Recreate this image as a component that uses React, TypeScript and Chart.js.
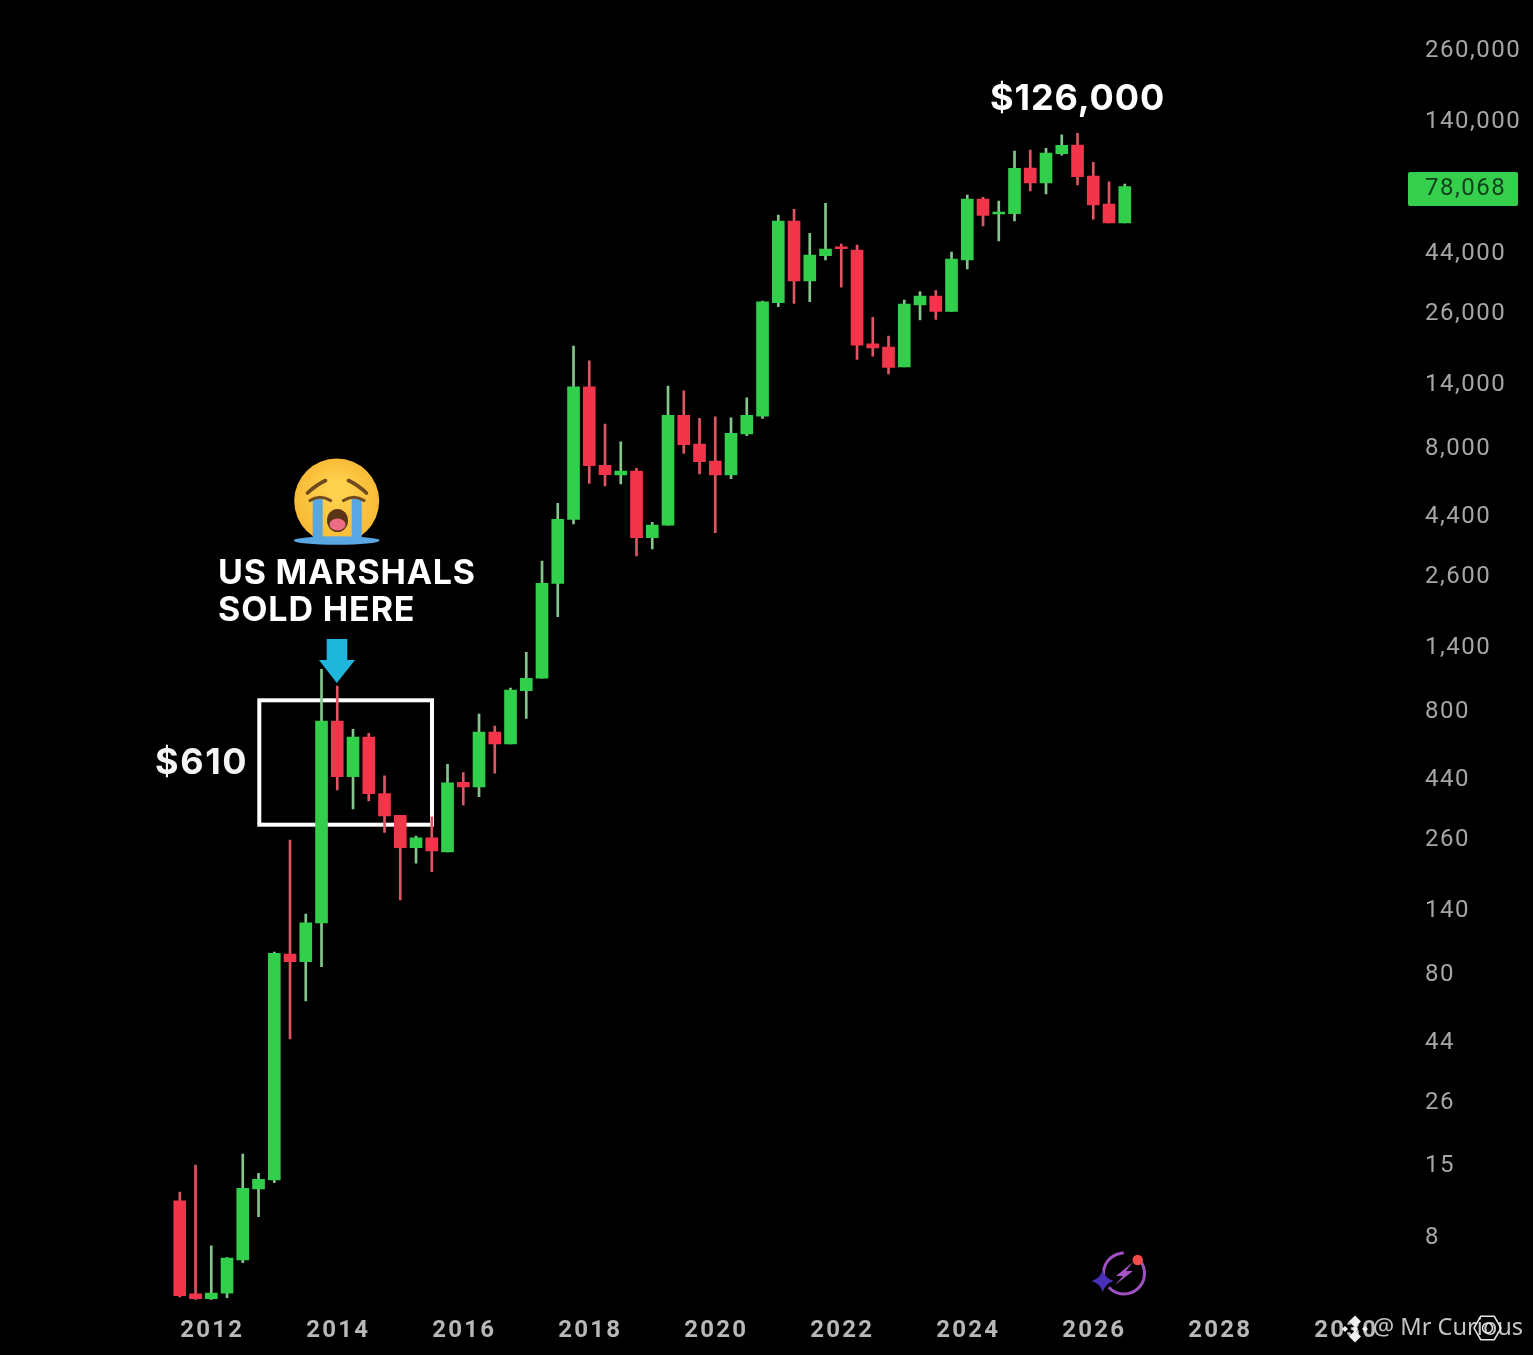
import React, { useEffect, useRef } from "react";
import { Chart, registerables } from "chart.js";

Chart.register(...registerables);

// Quarterly candles, Q3 2011 to Q3 2026 (prices in USD)
const opens = [10.9, 4.83, 4.63, 4.85, 6.49, 12.1, 13.07, 94.5, 88.3, 124, 726, 446, 631, 385, 318, 239.5, 261, 231, 424, 408, 659, 594, 946, 1055, 2422, 4240, 13530, 6803, 6250, 6471, 3610, 4027, 10536, 8196, 7065, 6250, 8949, 10470, 28230, 57700, 34140, 42590, 46080, 44770, 19720, 19160, 16080, 27670, 29940, 26180, 41020, 69960, 61360, 61520, 91770, 80490, 104000, 112200, 85570, 66950, 56700];
const highs = [11.76, 14.9, 7.34, 6.63, 16.4, 13.85, 96.1, 256, 134, 1141, 986, 675, 652, 449, 318, 265, 314, 497, 462, 772, 695, 969, 1324, 2944, 4879, 19330, 16990, 9766, 8363, 6627, 4131, 13620, 13070, 10260, 10410, 10318, 12290, 28660, 60800, 63930, 51820, 67380, 47190, 46770, 24850, 21090, 28910, 31090, 31360, 43990, 72440, 71010, 68740, 106500, 107400, 109000, 122800, 124300, 96450, 81400, 79780];
const lows = [4.7, 4.6, 4.6, 4.67, 6.34, 9.48, 12.76, 44.9, 62.6, 84.5, 397, 336, 361, 274, 151.6, 209, 194, 231, 348, 374, 460, 594, 743, 1055, 1808, 4070, 5810, 5675, 5775, 3076, 3270, 4027, 7556, 6303, 3771, 6049, 8815, 10260, 27260, 28080, 28480, 41020, 32310, 17200, 17700, 15130, 16080, 24260, 24410, 26180, 37910, 55240, 48440, 57700, 75060, 73090, 102800, 79100, 58590, 56700, 56700];
const closes = [4.75, 4.63, 4.86, 6.6, 12.15, 13.15, 95, 88.3, 124.2, 726, 446, 631, 384, 316, 239.5, 261, 233, 423, 408, 659, 594, 952, 1055, 2422, 4240, 13530, 6780, 6266, 6471, 3610, 4036, 10536, 8147, 7020, 6250, 9003, 10536, 28480, 57700, 34140, 42850, 45170, 45290, 19490, 18990, 16040, 27910, 29940, 26180, 41380, 69960, 60670, 62440, 91530, 80490, 104600, 111900, 85040, 66370, 56700, 78068];

const firstYear = 2011;
const firstQuarter = 3;
const categoryCount = 78;
const quarterLabels = Array.from({ length: categoryCount }, (_, i) => {
  const q = firstQuarter - 1 + i;
  return `${firstYear + Math.floor(q / 4)} Q${(q % 4) + 1}`;
});

const priceTicks = [260000, 140000, 44000, 26000, 14000, 8000, 4400, 2600, 1400, 800, 440, 260, 140, 80, 44, 26, 15, 8];
const lastPrice = 78068;

const GREEN = "#32cf4d";
const RED = "#f2354a";
const GREEN_WICK = "#86c58c";
const RED_WICK = "#dc5664";

const rr = (ctx: CanvasRenderingContext2D, text: string, x: number, y: number, font: string, color: string, spacing = 0) => {
  ctx.font = font;
  ctx.fillStyle = color;
  ctx.textAlign = "left";
  ctx.textBaseline = "middle";
  (ctx as any).letterSpacing = `${spacing}px`;
  ctx.fillText(text, x, y);
  (ctx as any).letterSpacing = "0px";
};

const Y_LABEL_SHIFT = 2;
const X_LABEL_SHIFT = 1;

const backgroundAndBox = {
  id: "backgroundAndBox",
  beforeDraw(chart: any) {
    const { ctx, width, height } = chart;
    ctx.save();
    ctx.fillStyle = "#000";
    ctx.fillRect(0, 0, width, height);
    ctx.restore();
    // y tick labels (z = 0) are drawn straight after this hook
    (ctx as any).letterSpacing = "1.5px";
    ctx.translate(0, Y_LABEL_SHIFT);
  },
  beforeDatasetsDraw(chart: any) {
    const { ctx } = chart;
    ctx.translate(0, -Y_LABEL_SHIFT);
    (ctx as any).letterSpacing = "0px";
    ctx.save();
    ctx.strokeStyle = "#fff";
    ctx.lineWidth = 4;
    ctx.strokeRect(259.3, 700.3, 172.7, 124.4);
    ctx.restore();
  },
  afterDatasetsDraw(chart: any) {
    // x tick labels have z = 1, they are drawn straight after this hook
    (chart.ctx as any).letterSpacing = "2.2px";
    chart.ctx.translate(X_LABEL_SHIFT, 0);
  },
};

function drawEmoji(ctx: CanvasRenderingContext2D) {
  const cx = 336.7;
  const cy = 501;
  ctx.save();
  const g = ctx.createRadialGradient(cx, cy - 12, 8, cx, cy, 44);
  g.addColorStop(0, "#ffd24f");
  g.addColorStop(1, "#f8b935");
  ctx.fillStyle = g;
  ctx.beginPath();
  ctx.arc(cx, cy, 42.5, 0, Math.PI * 2);
  ctx.fill();
  ctx.fillStyle = "#58a6e2";
  ctx.beginPath();
  ctx.ellipse(cx, 540.5, 43, 4.3, 0, 0, Math.PI * 2);
  ctx.fill();
  ctx.fillRect(312.7, 499, 10, 38);
  ctx.fillRect(351.7, 499, 10, 38);
  ctx.strokeStyle = "#6f4a1e";
  ctx.lineWidth = 3.6;
  ctx.lineCap = "round";
  ctx.beginPath();
  ctx.moveTo(307.5, 493);
  ctx.quadraticCurveTo(316, 485, 325.5, 480.5);
  ctx.moveTo(348.5, 480.5);
  ctx.quadraticCurveTo(358, 485, 366.5, 493);
  ctx.stroke();
  ctx.lineWidth = 3.2;
  ctx.beginPath();
  ctx.moveTo(310, 500.5);
  ctx.quadraticCurveTo(320, 494, 330.5, 500.5);
  ctx.moveTo(343.5, 500.5);
  ctx.quadraticCurveTo(354, 494, 364, 500.5);
  ctx.stroke();
  ctx.fillStyle = "#5a3517";
  ctx.beginPath();
  ctx.ellipse(337.5, 520.5, 10.5, 11.5, 0, 0, Math.PI * 2);
  ctx.fill();
  ctx.fillStyle = "#ec6d85";
  ctx.beginPath();
  ctx.ellipse(337.5, 524.5, 8, 6, 0, 0, Math.PI * 2);
  ctx.fill();
  ctx.restore();
}

function drawArrow(ctx: CanvasRenderingContext2D) {
  ctx.save();
  ctx.fillStyle = "#1fb6dc";
  ctx.beginPath();
  ctx.moveTo(326.7, 639);
  ctx.lineTo(347.3, 639);
  ctx.lineTo(347.3, 660);
  ctx.lineTo(355, 660);
  ctx.lineTo(336.8, 683);
  ctx.lineTo(319, 660);
  ctx.lineTo(326.7, 660);
  ctx.closePath();
  ctx.fill();
  ctx.restore();
}

function drawBoltIcon(ctx: CanvasRenderingContext2D) {
  ctx.save();
  ctx.strokeStyle = "#a04fc0";
  ctx.lineWidth = 3;
  ctx.beginPath();
  ctx.arc(1124, 1273.5, 20.5, -0.9, 2.4);
  ctx.stroke();
  ctx.beginPath();
  ctx.arc(1124, 1273.5, 20.5, 3.0, 4.7);
  ctx.stroke();
  ctx.fillStyle = "#a653c6";
  ctx.beginPath();
  ctx.moveTo(1133, 1262);
  ctx.lineTo(1116, 1276);
  ctx.lineTo(1123, 1276);
  ctx.lineTo(1115, 1285);
  ctx.lineTo(1133, 1271);
  ctx.lineTo(1126, 1271);
  ctx.closePath();
  ctx.fill();
  ctx.fillStyle = "#f04a4a";
  ctx.beginPath();
  ctx.arc(1137.7, 1260, 5.2, 0, Math.PI * 2);
  ctx.fill();
  ctx.fillStyle = "#4a30b8";
  const sx = 1102.7;
  const sy = 1281;
  const k = 2.5;
  ctx.beginPath();
  ctx.moveTo(sx, sy - 11);
  ctx.quadraticCurveTo(sx + k, sy - k, sx + 11, sy);
  ctx.quadraticCurveTo(sx + k, sy + k, sx, sy + 11);
  ctx.quadraticCurveTo(sx - k, sy + k, sx - 11, sy);
  ctx.quadraticCurveTo(sx - k, sy - k, sx, sy - 11);
  ctx.fill();
  ctx.restore();
}

function drawWatermark(ctx: CanvasRenderingContext2D) {
  ctx.save();
  rr(ctx, "@ Mr Curious", 1373, 1328, "23.6px 'Noto Sans'", "#c4c4c4");
  // diamond logo
  const dx = 1355;
  const dy = 1329;
  ctx.fillStyle = "#f0f0f0";
  const diamonds: [number, number, number][] = [[0, -7.5, 6], [0, 7.5, 6], [-10, 0, 3], [10, 0, 3], [0, 0, 3.2]];
  diamonds.forEach(([ox, oy, s]) => {
    ctx.beginPath();
    ctx.moveTo(dx + ox, dy + oy - s);
    ctx.lineTo(dx + ox + s, dy + oy);
    ctx.lineTo(dx + ox, dy + oy + s);
    ctx.lineTo(dx + ox - s, dy + oy);
    ctx.closePath();
    ctx.fill();
  });
  // hexagon logo
  const hx = 1487.5;
  const hy = 1328;
  ctx.strokeStyle = "#e8e8e8";
  ctx.lineWidth = 1.5;
  ctx.beginPath();
  for (let i = 0; i < 6; i++) {
    const a = (Math.PI / 3) * i;
    const px = hx + 13.5 * Math.cos(a);
    const py = hy + 13.5 * Math.sin(a);
    if (i === 0) ctx.moveTo(px, py);
    else ctx.lineTo(px, py);
  }
  ctx.closePath();
  ctx.stroke();
  ctx.beginPath();
  ctx.arc(hx, hy, 5, 0, Math.PI * 2);
  ctx.stroke();
  ctx.restore();
}

const annotations = {
  id: "annotations",
  afterDraw(chart: any) {
    const { ctx, scales } = chart;
    ctx.translate(-X_LABEL_SHIFT, 0);
    (ctx as any).letterSpacing = "0px";
    ctx.save();
    rr(ctx, "$126,000", 990, 99, "700 36px Inter", "#fff", 0.9);
    rr(ctx, "US MARSHALS", 218, 574, "700 34px Inter", "#fff", 0.8);
    rr(ctx, "SOLD HERE", 218, 611, "700 34px Inter", "#fff", 0.9);
    rr(ctx, "$610", 155, 763, "700 36px Inter", "#f4f4f4", 1.6);
    drawEmoji(ctx);
    drawArrow(ctx);
    const badgeY = scales.y.getPixelForValue(lastPrice) + 2.5;
    ctx.fillStyle = "#35cf4d";
    ctx.beginPath();
    ctx.roundRect(1408, badgeY - 17, 110, 34, 2);
    ctx.fill();
    rr(ctx, lastPrice.toLocaleString("en-US"), 1425, badgeY + 0.5, "24px Roboto", "#123f1b", 1.5);
    drawBoltIcon(ctx);
    drawWatermark(ctx);
    ctx.restore();
  },
};

export default function App() {
  const ref = useRef<HTMLCanvasElement>(null);
  useEffect(() => {
    document.body.style.background = "#000";
    document.body.style.margin = "0";
    const up = opens.map((o, i) => closes[i] >= o);
    const chart = new Chart(ref.current!, {
      type: "bar",
      data: {
        labels: quarterLabels,
        datasets: [
          {
            label: "Body",
            data: opens.map((o, i) => [o, closes[i]]),
            backgroundColor: up.map((u) => (u ? GREEN : RED)),
            barThickness: 12,
            grouped: false,
            order: 1,
          } as any,
          {
            label: "Wick",
            data: lows.map((l, i) => [l, highs[i]]),
            backgroundColor: up.map((u) => (u ? GREEN_WICK : RED_WICK)),
            barThickness: 2,
            grouped: false,
            order: 2,
          } as any,
        ],
      },
      options: {
        responsive: false,
        animation: false,
        devicePixelRatio: 1,
        events: [],
        layout: { padding: { left: 171.9, top: 0, right: 0, bottom: 0 } },
        plugins: { legend: { display: false }, tooltip: { enabled: false } },
        scales: {
          x: {
            type: "category",
            offset: true,
            grid: { display: false, drawTicks: false },
            border: { display: false },
            ticks: {
              z: 1,
              autoSkip: false,
              maxRotation: 0,
              minRotation: 0,
              padding: 12,
              color: "#b8b8b8",
              font: { family: "Roboto", size: 24, weight: 700 },
              callback(_v: any, i: number) {
                const label = quarterLabels[i];
                const [year, q] = label.split(" ");
                return q === "Q1" && Number(year) % 2 === 0 ? year : "";
              },
            },
            afterFit(scale: any) {
              scale.height = 50;
              scale.paddingLeft = 0;
              scale.paddingRight = 0;
            },
          },
          y: {
            type: "logarithmic",
            position: "right",
            min: 4.377,
            max: 399300,
            grid: { display: false, drawTicks: false },
            border: { display: false },
            ticks: {
              padding: 24.6,
              autoSkip: false,
              color: "#a6a6a6",
              font: { family: "Roboto", size: 24, weight: 400 },
              callback(v: any) {
                return Number(v).toLocaleString("en-US");
              },
            },
            afterBuildTicks(scale: any) {
              scale.ticks = priceTicks.map((value) => ({ value }));
            },
            afterFit(scale: any) {
              scale.width = 132.6;
              scale.paddingTop = 0;
              scale.paddingBottom = 0;
            },
          },
        },
      } as any,
      plugins: [backgroundAndBox, annotations],
    });
    return () => chart.destroy();
  }, []);
  return (
    <div style={{ position: "absolute", left: 0, top: 0, width: 1533, height: 1355, background: "#000" }}>
      <canvas ref={ref} width={1533} height={1355} style={{ display: "block", width: 1533, height: 1355 }} />
    </div>
  );
}
